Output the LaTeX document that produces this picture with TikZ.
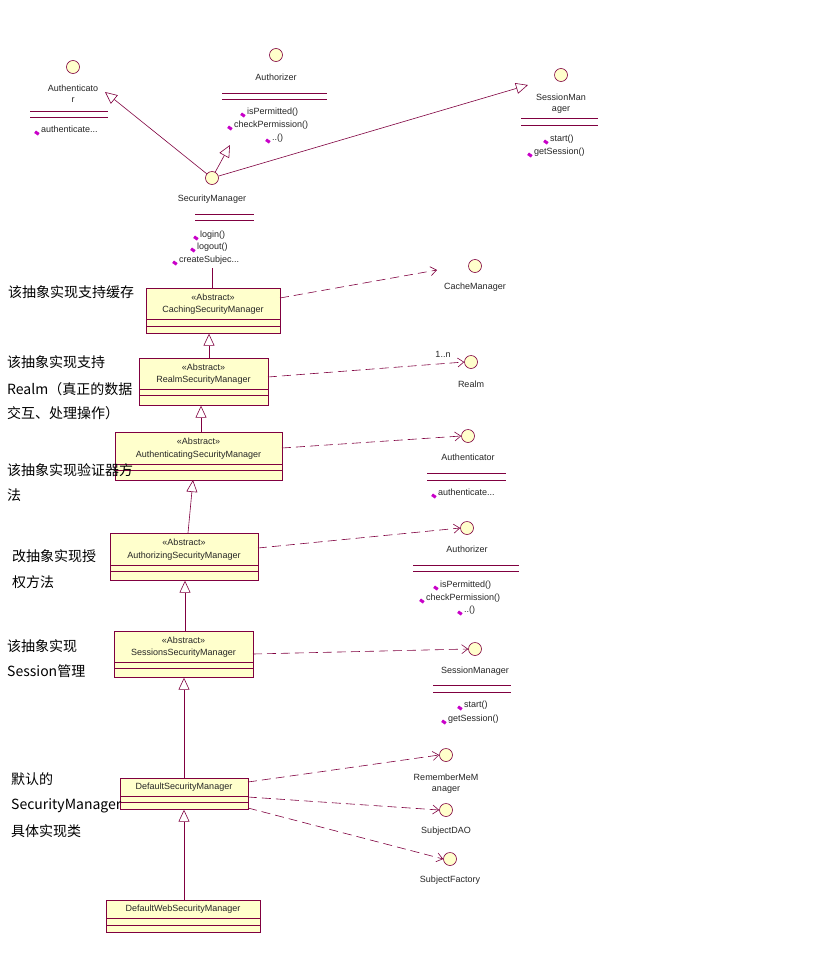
\documentclass[tikz,border=0pt]{standalone}
\usepackage{fontspec}
\setmainfont{Liberation Sans}
\newfontfamily\cjk{Noto Sans CJK SC}
\usetikzlibrary{arrows.meta}
\definecolor{ln}{RGB}{128,0,64}
\definecolor{fillc}{RGB}{255,255,204}
\definecolor{mth}{RGB}{200,0,200}
\newcommand\mico{\textcolor{mth}{\rotatebox{-35}{\rule{4.5pt}{3pt}}}\,}
\tikzset{
  cls/.style={draw=ln,fill=fillc,line width=0.7pt,inner sep=0pt,anchor=north west},
  iface/.style={circle,draw=ln,fill=fillc,line width=0.6pt,minimum size=13pt,inner sep=0pt},
  sm/.style={font=\fontsize{9}{11}\selectfont,inner sep=0pt,text=black!85},
  cn/.style={font=\cjk\fontsize{14}{16}\selectfont,anchor=west,inner sep=0pt},
  sep/.style={draw=ln,line width=0.7pt},
  gen/.style={draw=ln,line width=0.6pt,-{Triangle[open,length=12pt,width=11pt,fill=white]}},
  dep/.style={draw=ln,line width=0.6pt,dash pattern=on 9pt off 5pt,-{Straight Barb[length=6pt,width=9pt]}},
  assoc/.style={draw=ln,line width=0.6pt}
}
\newcommand\clsbox[9]{% name,x1,y1,x2,y2,l1,l2,line1,line2
  \node[cls,minimum width=#4pt-#2pt,minimum height=#5pt-#3pt] (#1) at (#2,#3) {};
  \draw[sep] (#2,#6) -- (#4,#6); \draw[sep] (#2,#7) -- (#4,#7);
  \node[sm] at ({(#2+#4)/2},{#3+(#6-#3)*0.3}) {#8};
  \node[sm] at ({(#2+#4)/2},{#3+(#6-#3)*0.72}) {#9};
}
\begin{document}
\begin{tikzpicture}[x=1pt,y=-1pt]
\useasboundingbox[fill=white] (0,0) rectangle (819,980);
% top interfaces
\node[iface] (authT) at (73,67) {};
\node[sm] at (73,88) {Authenticato}; \node[sm] at (73,100) {r};
\draw[sep] (30,111) -- (108,111); \draw[sep] (30,117) -- (108,117);
\node[sm,anchor=west] at (34,131) {\mico authenticate...};

\node[iface] (authzT) at (276,55) {};
\node[sm] at (276,77) {Authorizer};
\draw[sep] (222,93) -- (327,93); \draw[sep] (222,99) -- (327,99);
\node[sm,anchor=west] at (240,113) {\mico isPermitted()};
\node[sm,anchor=west] at (227,126) {\mico checkPermission()};
\node[sm,anchor=west] at (265,139) {\mico ..()};

\node[iface] (sessT) at (561,75) {};
\node[sm] at (561,97) {SessionMan}; \node[sm] at (561,110) {ager};
\draw[sep] (521,118) -- (598,118); \draw[sep] (521,125) -- (598,125);
\node[sm,anchor=west] at (543,140) {\mico start()};
\node[sm,anchor=west] at (527,153) {\mico getSession()};

\node[iface] (secm) at (212,178) {};
\node[sm] at (212,199) {SecurityManager};
\draw[sep] (195,214) -- (254,214); \draw[sep] (195,220) -- (254,220);
\node[sm,anchor=west] at (193,236) {\mico login()};
\node[sm,anchor=west] at (190,248) {\mico logout()};
\node[sm,anchor=west] at (172,261) {\mico createSubjec...};
\coordinate (secmb) at (212,268);

\draw[gen] (secm) -- (105,92);
\draw[gen] (secm) -- (230,145);
\draw[gen] (secm) -- (528,85);

% class boxes
\clsbox{cach}{146}{288}{280}{333}{319}{326}{<<Abstract>>}{CachingSecurityManager}
\clsbox{realm}{139}{358}{268}{405}{389}{395}{<<Abstract>>}{RealmSecurityManager}
\clsbox{authn}{115}{432}{282}{480}{464}{470}{<<Abstract>>}{AuthenticatingSecurityManager}
\clsbox{authz}{110}{533}{258}{580}{565}{571}{<<Abstract>>}{AuthorizingSecurityManager}
\clsbox{sess}{114}{631}{253}{677}{662}{668}{<<Abstract>>}{SessionsSecurityManager}
\node[cls,minimum width=128pt,minimum height=31pt] (def) at (120,778) {};
\draw[sep] (120,796) -- (248,796); \draw[sep] (120,802) -- (248,802);
\node[sm] at (184,787) {DefaultSecurityManager};
\node[cls,minimum width=154pt,minimum height=32pt] (web) at (106,900) {};
\draw[sep] (106,918) -- (260,918); \draw[sep] (106,925) -- (260,925);
\node[sm] at (183,909) {DefaultWebSecurityManager};

% inheritance
\draw[assoc] (secmb) -- (cach.north -| secmb);
\draw[gen] (realm.north -| 209,0) -- (cach.south -| 209,0);
\draw[gen] (authn.north -| 201,0) -- (realm.south -| 201,0);
\draw[gen] (188,533) -- (193,480);
\draw[gen] (sess.north -| 185,0) -- (authz.south -| 185,0);
\draw[gen] (def.north -| 184,0) -- (sess.south -| 184,0);
\draw[gen] (web.north -| 184,0) -- (def.south -| 184,0);

% right interfaces
\node[iface] (cachem) at (475,266) {};
\node[sm] at (475,287) {CacheManager};
\node[iface] (realmi) at (471,362) {};
\node[sm] at (471,384) {Realm};
\node[sm] at (443,354) {1..n};
\node[iface] (authM) at (468,436) {};
\node[sm] at (468,457) {Authenticator};
\draw[sep] (427,473) -- (506,473); \draw[sep] (427,480) -- (506,480);
\node[sm,anchor=west] at (431,494) {\mico authenticate...};
\node[iface] (authzM) at (467,528) {};
\node[sm] at (467,549) {Authorizer};
\draw[sep] (413,565) -- (519,565); \draw[sep] (413,571) -- (519,571);
\node[sm,anchor=west] at (433,586) {\mico isPermitted()};
\node[sm,anchor=west] at (419,599) {\mico checkPermission()};
\node[sm,anchor=west] at (457,611) {\mico ..()};
\node[iface] (sessM) at (475,649) {};
\node[sm] at (475,671) {SessionManager};
\draw[sep] (433,685) -- (511,685); \draw[sep] (433,692) -- (511,692);
\node[sm,anchor=west] at (457,706) {\mico start()};
\node[sm,anchor=west] at (441,720) {\mico getSession()};
\node[iface] (remm) at (446,755) {};
\node[sm] at (446,777) {RememberMeM}; \node[sm] at (446,790) {anager};
\node[iface] (sdao) at (446,810) {};
\node[sm] at (446,831) {SubjectDAO};
\node[iface] (sfac) at (450,859) {};
\node[sm] at (450,880) {SubjectFactory};

% dependencies
\draw[dep] (280,298) -- (437,270);
\draw[dep] (268,377) -- (realmi.west);
\draw[dep] (282,448) -- (authM.west);
\draw[dep] (258,548) -- (authzM.west);
\draw[dep] (253,654) -- (sessM.west);
\draw[dep] (248,782) -- (remm.west);
\draw[dep] (248,797) -- (sdao.west);
\draw[dep] (248,808) -- (sfac.west);

% Chinese notes
\node[cn] at (8,292) {该抽象实现支持缓存};
\node[cn] at (7,362) {该抽象实现支持};
\node[cn] at (7,389) {Realm（真正的数据};
\node[cn] at (7,413) {交互、处理操作）};
\node[cn] at (7,470) {该抽象实现验证器方};
\node[cn] at (7,495) {法};
\node[cn] at (12,556) {改抽象实现授};
\node[cn] at (12,582) {权方法};
\node[cn] at (7,646) {该抽象实现};
\node[cn] at (7,671) {Session管理};
\node[cn] at (11,779) {默认的};
\node[cn] at (11,806) {SecurityManager};
\node[cn] at (11,831) {具体实现类};
\end{tikzpicture}
\end{document}
